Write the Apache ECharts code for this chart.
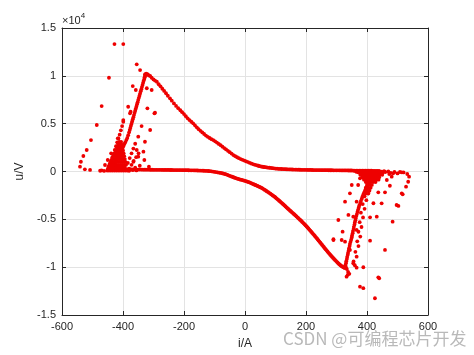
<!DOCTYPE html>
<html>
<head>
<meta charset="utf-8">
<script src="https://cdn.jsdelivr.net/npm/echarts@6/dist/echarts.min.js"></script>
<style>html,body{margin:0;padding:0;background:#fff}#c{width:474px;height:355px}</style>
</head>
<body>
<div id="c"></div>
<script>
// Upper branch: descending curve from left peak to right flat part
var upperBranch = [[-328,10150],[-324,10220],[-320,10180],[-316,10060],[-311,9980],[-306,9800],[-300,9620],[-295,9500],[-289,9380],[-283,9120],[-277,8900],[-271,8650],[-265,8420],[-259,8180],[-253,7920],[-246,7650],[-240,7400],[-233,7120],[-226,6850],[-219,6620],[-212,6400],[-206,6200],[-200,6000],[-194,5780],[-188,5560],[-182,5380],[-176,5200],[-170,5040],[-164,4830],[-158,4620],[-152,4420],[-146,4250],[-140,4080],[-134,3920],[-128,3760],[-122,3620],[-116,3500],[-110,3380],[-104,3290],[-98,3150],[-92,3020],[-86,2880],[-80,2750],[-74,2600],[-68,2450],[-62,2310],[-56,2160],[-50,2020],[-44,1870],[-38,1720],[-32,1600],[-26,1490],[-20,1390],[-14,1300],[-8,1220],[-2,1140],[4,1050],[10,980],[16,900],[22,820],[28,750],[34,690],[40,630],[44,600],[47,570],[51,545],[54,520],[58,495],[62,470],[66,450],[71,430],[75,410],[80,390],[85,370],[90,350],[95,330],[100,310],[105,295],[110,280],[115,270],[120,260],[125,252],[130,244],[135,236],[140,228],[145,220],[150,214],[155,208],[160,203],[165,198],[170,193],[175,188],[180,184],[185,180],[190,176],[195,173],[200,170],[205,166],[210,163],[215,160],[220,157],[225,154],[230,151],[235,149],[240,147],[245,145],[250,143],[255,141],[260,139],[265,137],[270,135],[275,133],[280,131],[285,129],[290,127],[295,125],[300,123],[305,121],[310,119],[315,117],[320,115],[325,113],[330,111],[335,109],[340,107],[345,105],[350,103],[355,101],[360,99],[365,97],[370,95],[375,93],[380,91],[385,89],[390,87],[395,85],[400,83],[405,81],[410,79],[415,77],[420,75],[425,73],[430,71],[435,69],[440,67]];
// Lower branch: left flat part then descending curve to right valley
var lowerBranch = [[-440,240],[-435,235],[-430,232],[-425,230],[-420,228],[-415,226],[-410,224],[-405,222],[-400,220],[-395,218],[-390,216],[-385,214],[-380,212],[-375,210],[-370,208],[-365,206],[-360,204],[-355,202],[-350,200],[-345,198],[-340,196],[-335,194],[-330,192],[-325,190],[-320,188],[-315,186],[-310,184],[-305,182],[-300,180],[-295,178],[-290,176],[-285,174],[-280,172],[-275,170],[-270,168],[-265,166],[-260,164],[-255,162],[-250,160],[-245,158],[-240,156],[-235,154],[-230,152],[-225,150],[-220,148],[-215,146],[-210,144],[-205,142],[-200,140],[-195,137],[-190,134],[-185,131],[-180,128],[-175,124],[-170,120],[-165,116],[-160,112],[-155,106],[-150,100],[-145,94],[-140,88],[-135,80],[-130,72],[-125,62],[-120,50],[-115,36],[-110,20],[-105,-4],[-100,-30],[-95,-60],[-90,-90],[-85,-120],[-80,-150],[-75,-185],[-71,-220],[-66,-260],[-62,-300],[-58,-350],[-54,-400],[-50,-450],[-46,-500],[-42,-550],[-38,-600],[-34,-650],[-30,-700],[-26,-740],[-22,-780],[-18,-815],[-14,-850],[-10,-885],[-6,-920],[-2,-960],[2,-1000],[6,-1040],[9,-1080],[13,-1120],[16,-1160],[20,-1210],[23,-1260],[27,-1310],[30,-1360],[34,-1410],[37,-1460],[41,-1510],[44,-1560],[48,-1610],[51,-1660],[55,-1720],[58,-1790],[62,-1860],[65,-1930],[69,-2000],[72,-2080],[76,-2150],[79,-2230],[83,-2310],[86,-2390],[90,-2470],[93,-2550],[97,-2630],[100,-2720],[103,-2800],[106,-2880],[109,-2960],[112,-3050],[115,-3130],[118,-3220],[121,-3300],[124,-3390],[127,-3470],[130,-3560],[133,-3650],[136,-3740],[139,-3830],[142,-3920],[145,-4010],[148,-4100],[151,-4180],[154,-4270],[157,-4350],[160,-4440],[163,-4520],[166,-4610],[169,-4700],[172,-4790],[175,-4880],[178,-4970],[181,-5060],[184,-5150],[187,-5250],[190,-5340],[193,-5440],[196,-5540],[199,-5640],[202,-5740],[205,-5850],[208,-5960],[211,-6070],[214,-6180],[217,-6290],[220,-6400],[223,-6510],[226,-6620],[229,-6740],[232,-6850],[235,-6960],[238,-7080],[241,-7200],[244,-7320],[247,-7440],[250,-7560],[253,-7680],[256,-7800],[259,-7920],[262,-8040],[265,-8150],[268,-8270],[271,-8380],[274,-8500],[277,-8610],[280,-8720],[283,-8820],[286,-8930],[289,-9030],[292,-9140],[295,-9240],[298,-9340],[301,-9440],[304,-9540],[307,-9630],[310,-9720],[313,-9800],[316,-9880],[319,-9940],[322,-10000],[325,-10040],[327,-10080],[331,-10020]];
// Left steep rise from the cluster to the peak
var leftRise = [[-437,330],[-434,500],[-431,680],[-428,860],[-425,1000],[-422,1180],[-419,1370],[-416,1550],[-413,1750],[-410,1940],[-407,2130],[-404,2320],[-401,2510],[-398,2700],[-395,2900],[-392,3080],[-389,3300],[-386,3500],[-383,3800],[-380,4100],[-378,4330],[-376,4550],[-374,4780],[-372,5000],[-370,5230],[-368,5450],[-366,5680],[-364,5900],[-362,6130],[-360,6350],[-358,6580],[-356,6800],[-354,7030],[-352,7250],[-350,7480],[-348,7700],[-346,7930],[-344,8150],[-342,8380],[-340,8600],[-338,8830],[-336,9050],[-334,9280],[-332,9500],[-330,9700],[-329,9850],[-327,10000],[-326,10150]];
// Right steep rise from the valley to the cluster
var rightRise = [[328,-10050],[329,-9800],[331,-9600],[332,-9380],[334,-9150],[335,-8930],[337,-8700],[338,-8480],[340,-8250],[341,-8030],[343,-7800],[344,-7580],[346,-7350],[348,-7130],[350,-6900],[351,-6680],[353,-6450],[354,-6230],[356,-6000],[357,-5780],[359,-5550],[360,-5330],[362,-5100],[363,-4880],[365,-4650],[367,-4430],[369,-4200],[371,-3980],[373,-3750],[375,-3530],[378,-3300],[380,-3080],[383,-2850],[385,-2630],[388,-2400],[391,-2180],[394,-1950],[397,-1750],[400,-1550],[403,-1350],[407,-1150],[410,-980],[414,-800],[417,-650],[421,-500],[424,-400],[428,-300],[431,-220],[435,-150],[438,-110],[442,-80]];
// Dense cluster near the left end
var leftCluster = [[-452,100],[-446,100],[-440,100],[-434,100],[-428,100],[-422,100],[-416,100],[-410,100],[-404,100],[-398,100],[-392,100],[-386,100],[-448,400],[-442,400],[-436,400],[-430,400],[-424,400],[-418,400],[-412,400],[-406,400],[-400,400],[-394,400],[-444,700],[-438,700],[-432,700],[-426,700],[-420,700],[-414,700],[-408,700],[-402,700],[-396,700],[-390,700],[-440,1000],[-434,1000],[-428,1000],[-422,1000],[-416,1000],[-410,1000],[-404,1000],[-398,1000],[-392,1000],[-436,1300],[-430,1300],[-424,1300],[-418,1300],[-412,1300],[-406,1300],[-400,1300],[-394,1300],[-432,1600],[-426,1600],[-420,1600],[-414,1600],[-408,1600],[-402,1600],[-396,1600],[-428,1900],[-422,1900],[-416,1900],[-410,1900],[-404,1900],[-398,1900],[-424,2200],[-418,2200],[-412,2200],[-406,2200],[-400,2200],[-420,2500],[-414,2500],[-408,2500],[-402,2500],[-416,2800],[-410,2800],[-404,2800],[-412,3100],[-406,3100],[-450,250],[-447,550],[-443,850],[-439,1150],[-435,1500],[-431,1850],[-427,2250],[-423,2650],[-419,3050],[-415,3450],[-411,3850],[-407,4300],[-403,4750],[-399,5200],[-380,300],[-372,700],[-365,1100],[-357,1500],[-349,1900],[-384,900],[-378,1400],[-372,1900],[-366,2400],[-360,2900],[-462,60],[-470,120],[-380,80],[-368,150],[-356,110]];
// Dense cluster near the right end
var rightCluster = [[372,-100],[380,-100],[388,-100],[396,-100],[404,-100],[412,-100],[420,-100],[428,-100],[436,-100],[444,-100],[452,-100],[378,-350],[386,-350],[394,-350],[402,-350],[410,-350],[418,-350],[426,-350],[434,-350],[442,-350],[450,-350],[384,-600],[392,-600],[400,-600],[408,-600],[416,-600],[424,-600],[432,-600],[440,-600],[390,-850],[398,-850],[406,-850],[414,-850],[422,-850],[430,-850],[438,-850],[396,-1100],[404,-1100],[412,-1100],[420,-1100],[428,-1100],[400,-1400],[408,-1400],[416,-1400],[396,-1700],[404,-1700],[412,-1700],[400,-2000],[408,-2000],[396,-2300],[404,-2300],[392,-2600],[398,-3000],[386,-3400],[392,-3900],[380,-4300],[387,-4800],[376,-5300],[382,-5800],[372,-6300],[378,-6800],[368,-7300],[372,-7800],[362,-8400],[366,-8900],[356,-9400],[360,-9800],[334,-10200],[338,-10500],[342,-10700],[460,-50],[470,0],[478,-150],[490,-50],[500,-200],[508,-50],[520,-100],[360,60],[366,-40],[456,40],[448,-20]];
// Scattered points, left side
var leftScatter = [[-428,13320],[-399,13320],[-355,11200],[-344,10600],[-446,9800],[-368,8930],[-358,8520],[-322,8700],[-306,8520],[-320,6600],[-295,6140],[-383,6770],[-377,6080],[-297,6080],[-339,4750],[-311,4340],[-350,3640],[-328,3110],[-355,2250],[-333,2070],[-366,1020],[-350,1550],[-399,5380],[-375,6250],[-417,3470],[-470,6840],[-486,4860],[-505,3290],[-519,2250],[-530,1620],[-538,1020],[-541,500],[-525,230],[-508,160],[-475,80],[-459,680],[-450,1200],[-439,1900],[-345,600],[-330,1200],[-315,500],[-360,400]];
// Scattered points, right side
var rightScatter = [[350,-1410],[344,-2280],[328,-3150],[371,-1410],[377,-710],[339,-4540],[306,-5070],[320,-6290],[328,-7340],[290,-7160],[344,-8200],[355,-9590],[366,-10050],[388,-10010],[333,-10990],[337,-10800],[377,-12040],[388,-12200],[426,-13250],[440,-11160],[437,-11060],[459,-8200],[410,-7230],[484,-5240],[432,-4720],[410,-4790],[448,-3330],[421,-3320],[437,-2180],[459,-2180],[475,-1490],[503,-3600],[517,-2390],[528,-1590],[535,-1070],[538,-540],[532,-260],[514,-90],[486,-190],[481,-540],[473,-260],[465,-890],[404,-2280],[366,-6110],[290,-7080],[317,-7160],[497,-3500],[514,-2280],[355,-4720],[366,-3150]];

var RED = '#ee0000';
var groups = [upperBranch, lowerBranch, leftRise, rightRise, leftCluster, rightCluster, leftScatter, rightScatter];
var series = groups.map(function (d) {
  return {type: 'scatter', data: d, symbol: 'circle', symbolSize: 3.8, itemStyle: {color: RED, opacity: 1}, silent: true, animation: false};
});

var FONT = 'Liberation Sans';
var TXT = '#262626';
var chart = echarts.init(document.getElementById('c'), null, {renderer: 'canvas'});
chart.setOption({
  backgroundColor: '#ffffff',
  animation: false,
  grid: {left: 62, right: 46, top: 28, bottom: 40, containLabel: false},
  xAxis: [{
    type: 'value', min: -600, max: 600, interval: 200, position: 'bottom',
    name: 'i/A', nameLocation: 'middle', nameGap: 23,
    nameTextStyle: {color: TXT, fontSize: 12, fontFamily: FONT},
    axisLine: {show: true, onZero: false, lineStyle: {color: TXT, width: 1}},
    axisTick: {show: true, inside: true, length: 4, lineStyle: {color: TXT}},
    axisLabel: {color: TXT, fontSize: 11, fontFamily: FONT, margin: 6},
    splitLine: {show: true, lineStyle: {color: '#e3e3e3', width: 1}}
  }, {
    type: 'value', min: -600, max: 600, interval: 200, position: 'top',
    axisLine: {show: true, onZero: false, lineStyle: {color: TXT, width: 1}},
    axisTick: {show: true, inside: true, length: 4, lineStyle: {color: TXT}},
    axisLabel: {show: false}, splitLine: {show: false}
  }],
  yAxis: [{
    type: 'value', min: -15000, max: 15000, interval: 5000, position: 'left',
    name: 'u/V', nameLocation: 'middle', nameGap: 28, nameRotate: 90,
    nameTextStyle: {color: TXT, fontSize: 12, fontFamily: FONT},
    axisLine: {show: true, onZero: false, lineStyle: {color: TXT, width: 1}},
    axisTick: {show: true, inside: true, length: 4, lineStyle: {color: TXT}},
    axisLabel: {color: TXT, fontSize: 11, fontFamily: FONT, margin: 6,
      formatter: function (v) { return String(Math.round(v / 1000) / 10); }},
    splitLine: {show: true, lineStyle: {color: '#e3e3e3', width: 1}}
  }, {
    type: 'value', min: -15000, max: 15000, interval: 5000, position: 'right',
    axisLine: {show: true, onZero: false, lineStyle: {color: TXT, width: 1}},
    axisTick: {show: true, inside: true, length: 4, lineStyle: {color: TXT}},
    axisLabel: {show: false}, splitLine: {show: false}
  }],
  graphic: [{
    type: 'text', left: 62, top: 12,
    style: {
      text: '{a|×10}{b|4}',
      rich: {
        a: {fontSize: 11, fontFamily: FONT, fill: TXT, verticalAlign: 'bottom'},
        b: {fontSize: 8, fontFamily: FONT, fill: TXT, verticalAlign: 'top', padding: [0, 0, 6, 0]}
      }
    }
  }, {
    type: 'text', left: 283, top: 330,
    style: {text: 'CSDN @可编程芯片开发', fill: '#b9b9b9', fontSize: 17, fontFamily: 'Noto Sans CJK SC'}
  }],
  series: series
});
</script>
</body>
</html>
